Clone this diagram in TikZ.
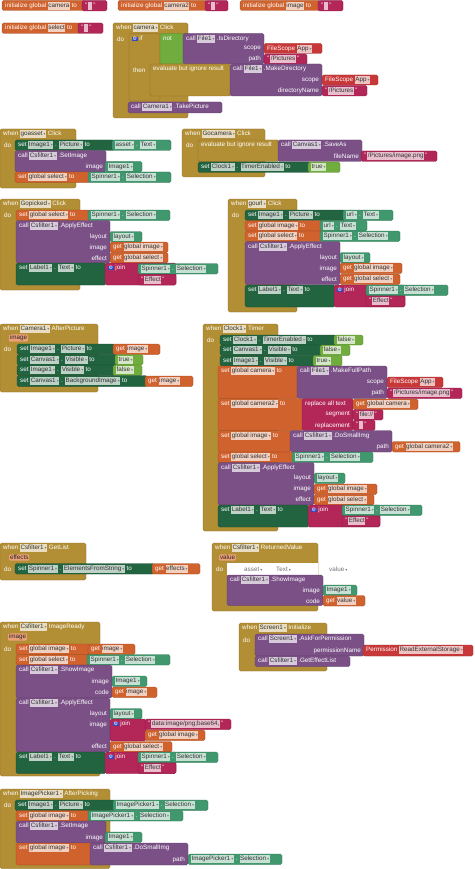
\documentclass[tikz,border=0pt]{standalone}
\usepackage{fontspec}
\setmainfont{Liberation Sans}
\newfontfamily\symf{DejaVu Sans}

\definecolor{evgold}{RGB}{178,142,52}
\definecolor{varor}{RGB}{208,98,46}
\definecolor{txtmg}{RGB}{178,38,88}
\definecolor{callpu}{RGB}{122,80,134}
\definecolor{setgr}{RGB}{34,100,64}
\definecolor{getgr}{RGB}{66,152,110}
\definecolor{logic}{RGB}{112,172,62}
\definecolor{helpred}{RGB}{200,56,56}
\definecolor{parm}{RGB}{236,160,120}
\definecolor{gearbl}{RGB}{56,72,190}

\newcommand{\bfnt}{\fontsize{6.3}{7.5}\selectfont}
\def\blkcol{white}
\newcounter{nd}
% fields inside the blocks
\newcommand{\dnarr}{{\symf\fontsize{4}{4}\selectfont\char"25BE}}
\newcommand{\fbx}[1]{{\setlength{\fboxsep}{0.5pt}\colorbox{white!70!\blkcol}{\textcolor{black!80}{\rule[-1.6pt]{0pt}{6.6pt}#1}}}}
\newcommand{\ddn}[1]{\fbx{#1\,\textcolor{black!50}{\dnarr}}}
\newcommand{\sfld}[1]{\fbx{#1}}
\newcommand{\gear}{{\setlength{\fboxsep}{0.5pt}\colorbox{gearbl}{\textcolor{white}{\symf\fontsize{5}{5}\selectfont\char"2699}}}}
% blocks and labels
\newcommand{\blk}[6]{%
  \filldraw[blkshape, fill=#1, draw=#1!75!black] ({#2},{#3}) rectangle ({#4},{#5});
  \stepcounter{nd}\edef\ndn{n\arabic{nd}}%
  \node[lbl, blkbg=#1] (\ndn) at ({#2+3},{#3+5.25}) {#6};}
\newcommand{\strb}[4]{\blk{txtmg}{#1}{#2}{#3}{#2+10.5}{"\,\sfld{#4}\,"}}
\newcommand{\lab}[3]{\stepcounter{nd}\edef\ndn{n\arabic{nd}}\node[lbl] (\ndn) at (#1,#2) {#3};}
\newcommand{\argl}[3]{\stepcounter{nd}\edef\ndn{n\arabic{nd}}\node[lbl, anchor=east] (\ndn) at (#1,#2) {#3};}
\newcommand{\parm}[3]{\stepcounter{nd}\edef\ndn{n\arabic{nd}}\node[prm] (\ndn) at (#1,#2) {#3};}

\begin{document}
\begin{tikzpicture}[
    x=1pt, y=-1pt,
    % Define styles
    blkshape/.style={rounded corners=1.5pt, line width=0.3pt},
    lbl/.style={anchor=west, inner sep=0pt, text=white, font=\bfnt},
    prm/.style={anchor=west, inner sep=0.8pt, fill=parm, text=black!85, rounded corners=1pt, font=\bfnt},
    ghost/.style={anchor=west, inner sep=0pt, text=black!55, font=\bfnt},
    blkbg/.code={\def\blkcol{#1}}
]
    \useasboundingbox (0,0) rectangle (474,869);

    % --- GLOBALS ---
    \blk{varor}{2}{0.5}{85}{10.5}{initialize global \sfld{camera} to}
    \strb{82}{0.5}{107}{\hspace{3pt}}
    \blk{varor}{118}{0.5}{207}{10.5}{initialize global \sfld{camera2} to}
    \strb{205}{0.5}{228}{\hspace{3pt}}
    \blk{varor}{240}{0.5}{320}{10.5}{initialize global \sfld{image} to}
    \strb{318}{0.5}{343}{\hspace{3pt}}
    \blk{varor}{2}{23}{80}{33.5}{initialize global \sfld{select} to}
    \strb{78}{23}{103}{\hspace{3pt}}

    % --- WHEN camera CLICK ---
    \blk{evgold}{113}{23}{188}{118}{when \ddn{camera} Click}
    \lab{117}{39}{do}
    \blk{evgold}{129}{33.5}{160}{101}{\gear\ if}
    \lab{133}{70}{then}
    \blk{logic}{160}{33.5}{184}{64}{not}
    \blk{callpu}{183}{33.5}{264}{64}{call \ddn{File1} .IsDirectory}
    \argl{261}{48.5}{scope}
    \argl{261}{59}{path}
    \blk{helpred}{264}{43.5}{322}{53.5}{FileScope \ddn{App}}
    \strb{264}{54}{307}{/Pictures}
    \blk{evgold}{150}{64}{231}{96}{evaluate but ignore result}
    \blk{callpu}{230}{64}{322}{96}{call \ddn{File1} .MakeDirectory}
    \argl{319}{80}{scope}
    \argl{319}{91}{directoryName}
    \blk{helpred}{322}{75}{378}{85}{FileScope \ddn{App}}
    \strb{322}{85.5}{367}{/Pictures}
    \blk{callpu}{128}{102}{222}{113}{call \ddn{Camera1} .TakePicture}

    % --- WHEN goasset CLICK ---
    \blk{evgold}{0}{129}{76}{188}{when \ddn{goasset} Click}
    \lab{4}{145}{do}
    \blk{setgr}{15}{140}{114}{150.5}{set \ddn{Image1} . \ddn{Picture} to}
    \blk{getgr}{112}{140}{171}{150.5}{\ddn{asset} . \ddn{Text}}
    \blk{callpu}{15}{150.5}{106}{172}{call \ddn{Csfilter1} .SetImage}
    \argl{103}{166.5}{image}
    \blk{getgr}{105}{161.5}{142}{172}{\ddn{Image1}}
    \blk{varor}{15}{172}{90}{182.5}{set \ddn{global select} to}
    \blk{getgr}{88}{172}{171}{182.5}{\ddn{Spinner1} . \ddn{Selection}}

    % --- WHEN Gocamera CLICK ---
    \blk{evgold}{182}{129}{265}{177}{when \ddn{Gocamera} Click}
    \lab{186}{145}{do}
    \blk{evgold}{198}{140}{279}{161.5}{evaluate but ignore result}
    \blk{callpu}{278}{140}{362}{161.5}{call \ddn{Canvas1} .SaveAs}
    \argl{359}{156.5}{fileName}
    \strb{361}{151}{437}{/Pictures/image.png}
    \blk{setgr}{198}{162}{310}{172.5}{set \ddn{Clock1} . \ddn{TimerEnabled} to}
    \blk{logic}{308}{162}{340}{172.5}{\ddn{true}}

    % --- WHEN Gopicked CLICK ---
    \blk{evgold}{0}{199}{80}{290}{when \ddn{Gopicked} Click}
    \lab{4}{215.5}{do}
    \blk{varor}{16}{210}{90}{220.5}{set \ddn{global select} to}
    \blk{getgr}{88}{210}{170}{220.5}{\ddn{Spinner1} . \ddn{Selection}}
    \blk{callpu}{16}{220.5}{110}{263}{call \ddn{Csfilter1} .ApplyEffect}
    \argl{107}{236.5}{layout}
    \argl{107}{247.5}{image}
    \argl{107}{258}{effect}
    \blk{getgr}{110}{231.5}{142}{242}{\ddn{layout}}
    \blk{varor}{110}{242}{168}{252.5}{get \ddn{global image}}
    \blk{varor}{110}{252.5}{168}{263}{get \ddn{global select}}
    \blk{setgr}{16}{263}{106}{285}{set \ddn{Label1} . \ddn{Text} to}
    \blk{txtmg}{105}{263}{176}{285}{\gear\ join}
    \blk{getgr}{138}{263.5}{218}{274}{\ddn{Spinner1} . \ddn{Selection}}
    \strb{138}{274.5}{176}{Effect}

    % --- WHEN gourl CLICK ---
    \blk{evgold}{228}{199}{297}{312}{when \ddn{gourl} Click}
    \lab{232}{215.5}{do}
    \blk{setgr}{245}{210}{345}{220.5}{set \ddn{Image1} . \ddn{Picture} to}
    \blk{getgr}{343}{210}{393}{220.5}{\ddn{url} . \ddn{Text}}
    \blk{varor}{245}{220.5}{322}{231}{set \ddn{global image} to}
    \blk{getgr}{320}{220.5}{367}{231}{\ddn{url} . \ddn{Text}}
    \blk{varor}{245}{231}{322}{241.5}{set \ddn{global select} to}
    \blk{getgr}{320}{231}{400}{241.5}{\ddn{Spinner1} . \ddn{Selection}}
    \blk{callpu}{245}{241.5}{340}{284.5}{call \ddn{Csfilter1} .ApplyEffect}
    \argl{337}{257.5}{layout}
    \argl{337}{268.5}{image}
    \argl{337}{279}{effect}
    \blk{getgr}{340}{252.5}{370}{263}{\ddn{layout}}
    \blk{varor}{340}{263}{402}{273.5}{get \ddn{global image}}
    \blk{varor}{340}{274}{400}{284.5}{get \ddn{global select}}
    \blk{setgr}{245}{285}{335}{307}{set \ddn{Label1} . \ddn{Text} to}
    \blk{txtmg}{334}{285}{405}{307}{\gear\ join}
    \blk{getgr}{366}{285}{448}{295.5}{\ddn{Spinner1} . \ddn{Selection}}
    \strb{366}{296}{405}{Effect}

    % --- WHEN Camera1 AFTERPICTURE ---
    \blk{evgold}{0}{324}{98}{392}{when \ddn{Camera1} AfterPicture}
    \parm{9}{338}{image}
    \lab{4}{349.5}{do}
    \blk{setgr}{17}{344}{115}{354.5}{set \ddn{Image1} . \ddn{Picture} to}
    \blk{varor}{113}{344}{160}{354.5}{get \ddn{image}}
    \blk{setgr}{17}{354.5}{117}{365}{set \ddn{Canvas1} . \ddn{Visible} to}
    \blk{logic}{115}{354.5}{143}{365}{\ddn{true}}
    \blk{setgr}{17}{365}{115}{375.5}{set \ddn{Image1} . \ddn{Visible} to}
    \blk{logic}{113}{365}{142}{375.5}{\ddn{false}}
    \blk{setgr}{17}{375.5}{147}{386.5}{set \ddn{Canvas1} . \ddn{BackgroundImage} to}
    \blk{varor}{145}{376}{193}{386.5}{get \ddn{image}}

    % --- WHEN Clock1 TIMER ---
    \blk{evgold}{203}{324}{278}{531}{when \ddn{Clock1} Timer}
    \lab{207}{340}{do}
    \blk{setgr}{220}{335}{336}{345}{set \ddn{Clock1} . \ddn{TimerEnabled} to}
    \blk{logic}{334}{335}{363}{345}{\ddn{false}}
    \blk{setgr}{220}{345}{322}{355.5}{set \ddn{Canvas1} . \ddn{Visible} to}
    \blk{logic}{320}{345}{350}{355.5}{\ddn{false}}
    \blk{setgr}{220}{355.5}{315}{366}{set \ddn{Image1} . \ddn{Visible} to}
    \blk{logic}{313}{355.5}{342}{366}{\ddn{true}}
    \blk{varor}{218}{366}{298}{398.5}{set \ddn{global camera} to}
    \blk{callpu}{297}{366}{387}{398.5}{call \ddn{File1} .MakeFullPath}
    \argl{384}{382.5}{scope}
    \argl{384}{393}{path}
    \blk{helpred}{387}{377}{443}{387.5}{FileScope \ddn{App}}
    \strb{387}{388}{462}{/Pictures/image.png}
    \blk{varor}{218}{398.5}{303}{430.5}{set \ddn{global camera2} to}
    \blk{txtmg}{302}{398.5}{353}{430.5}{replace all text}
    \argl{350}{414.5}{segment}
    \argl{350}{425.5}{replacement}
    \blk{varor}{353}{399}{418}{409.5}{get \ddn{global camera}}
    \strb{353}{409.5}{383}{file://}
    \strb{353}{420}{375}{\hspace{3pt}}
    \blk{varor}{218}{430.5}{291}{452}{set \ddn{global image} to}
    \blk{callpu}{290}{430.5}{392}{452}{call \ddn{Csfilter1} .DoSmallImg}
    \argl{389}{446.5}{path}
    \blk{varor}{392}{441.5}{460}{452}{get \ddn{global camera2}}
    \blk{varor}{218}{452}{294}{462.5}{set \ddn{global select} to}
    \blk{getgr}{292}{452}{373}{462.5}{\ddn{Spinner1} . \ddn{Selection}}
    \blk{callpu}{218}{462.5}{314}{505}{call \ddn{Csfilter1} .ApplyEffect}
    \argl{311}{478}{layout}
    \argl{311}{489}{image}
    \argl{311}{499.5}{effect}
    \blk{getgr}{314}{473}{345}{483.5}{\ddn{layout}}
    \blk{varor}{314}{484}{377}{494.5}{get \ddn{global image}}
    \blk{varor}{314}{494.5}{374}{505}{get \ddn{global select}}
    \blk{setgr}{218}{505}{309}{527}{set \ddn{Label1} . \ddn{Text} to}
    \blk{txtmg}{308}{505}{380}{527}{\gear\ join}
    \blk{getgr}{342}{505}{422}{515.5}{\ddn{Spinner1} . \ddn{Selection}}
    \strb{342}{516}{380}{Effect}

    % --- WHEN Csfilter1 GETLIST ---
    \blk{evgold}{0}{543}{86}{580}{when \ddn{Csfilter1} GetList}
    \parm{9}{557.5}{effects}
    \lab{4}{569}{do}
    \blk{setgr}{15}{563.5}{154}{574}{set \ddn{Spinner1} . \ddn{ElementsFromString} to}
    \blk{varor}{152}{563.5}{200}{574}{get \ddn{effects}}

    % --- WHEN Csfilter1 RETURNEDVALUE ---
    \blk{evgold}{212}{543}{318}{611}{when \ddn{Csfilter1} ReturnedValue}
    \parm{219}{557.5}{value}
    \lab{216}{569}{do}
    \fill[white] (227,563) rectangle (318,575);
    \node[ghost] (ghasset) at (244,569) {asset\,\dnarr};
    \node[ghost] (ghtext) at (276,569) {Text\,\dnarr};
    \node[ghost] (ghvalue) at (329,569) {value\,\dnarr};
    \blk{callpu}{227}{575}{323}{605.5}{call \ddn{Csfilter1} .ShowImage}
    \argl{320}{590.5}{image}
    \argl{320}{601}{code}
    \blk{getgr}{323}{585}{357}{595.5}{\ddn{Image1}}
    \blk{varor}{323}{595.5}{365}{606}{get \ddn{value}}

    % --- WHEN Csfilter1 IMAGEREADY ---
    \blk{evgold}{0}{622}{100}{776}{when \ddn{Csfilter1} ImageReady}
    \parm{8}{637}{image}
    \lab{4}{649}{do}
    \blk{varor}{16}{644}{90}{654.5}{set \ddn{global image} to}
    \blk{varor}{88}{644}{135}{654.5}{get \ddn{image}}
    \blk{varor}{16}{654.5}{89}{665}{set \ddn{global select} to}
    \blk{getgr}{87}{654.5}{170}{665}{\ddn{Spinner1} . \ddn{Selection}}
    \blk{callpu}{16}{665}{112}{698}{call \ddn{Csfilter1} .ShowImage}
    \argl{109}{681.5}{image}
    \argl{109}{692}{code}
    \blk{getgr}{112}{676}{147}{686.5}{\ddn{Image1}}
    \blk{varor}{112}{687}{157}{697.5}{get \ddn{image}}
    \blk{callpu}{16}{698}{110}{752}{call \ddn{Csfilter1} .ApplyEffect}
    \argl{107}{713.5}{layout}
    \argl{107}{724.5}{image}
    \argl{107}{746.5}{effect}
    \blk{getgr}{110}{708.5}{142}{719}{\ddn{layout}}
    \blk{txtmg}{110}{719}{146}{741}{\gear\ join}
    \strb{145}{719}{231}{data:image/png;base64,}
    \blk{varor}{145}{730}{205}{740.5}{get \ddn{global image}}
    \blk{varor}{110}{741.5}{172}{752}{get \ddn{global select}}
    \blk{setgr}{16}{752}{106}{773.5}{set \ddn{Label1} . \ddn{Text} to}
    \blk{txtmg}{105}{752}{176}{773.5}{\gear\ join}
    \blk{getgr}{138}{752}{218}{762.5}{\ddn{Spinner1} . \ddn{Selection}}
    \strb{138}{763}{176}{Effect}

    % --- WHEN Screen1 INITIALIZE ---
    \blk{evgold}{239}{623}{327}{671}{when \ddn{Screen1} Initialize}
    \lab{243}{640}{do}
    \blk{callpu}{255}{634}{364}{656}{call \ddn{Screen1} .AskForPermission}
    \argl{361}{650.5}{permissionName}
    \blk{helpred}{363}{645}{473}{656}{Permission \ddn{ReadExternalStorage}}
    \blk{callpu}{255}{656}{350}{666.5}{call \ddn{Csfilter1} .GetEffectList}

    % --- WHEN ImagePicker1 AFTERPICKING ---
    \blk{evgold}{0}{789}{110}{868.5}{when \ddn{ImagePicker1} AfterPicking}
    \lab{4}{805.5}{do}
    \blk{setgr}{15}{800}{115}{810.5}{set \ddn{Image1} . \ddn{Picture} to}
    \blk{getgr}{113}{800}{208}{810.5}{\ddn{ImagePicker1} . \ddn{Selection}}
    \blk{varor}{16}{810.5}{90}{821}{set \ddn{global image} to}
    \blk{getgr}{88}{810.5}{183}{821}{\ddn{ImagePicker1} . \ddn{Selection}}
    \blk{callpu}{16}{821}{106}{843}{call \ddn{Csfilter1} .SetImage}
    \argl{103}{837.5}{image}
    \blk{getgr}{105}{832}{142}{842.5}{\ddn{Image1}}
    \blk{varor}{16}{843}{92}{865}{set \ddn{global image} to}
    \blk{callpu}{90}{843}{188}{865}{call \ddn{Csfilter1} .DoSmallImg}
    \argl{185}{859.5}{path}
    \blk{getgr}{188}{854}{282}{864.5}{\ddn{ImagePicker1} . \ddn{Selection}}

\end{tikzpicture}
\end{document}
